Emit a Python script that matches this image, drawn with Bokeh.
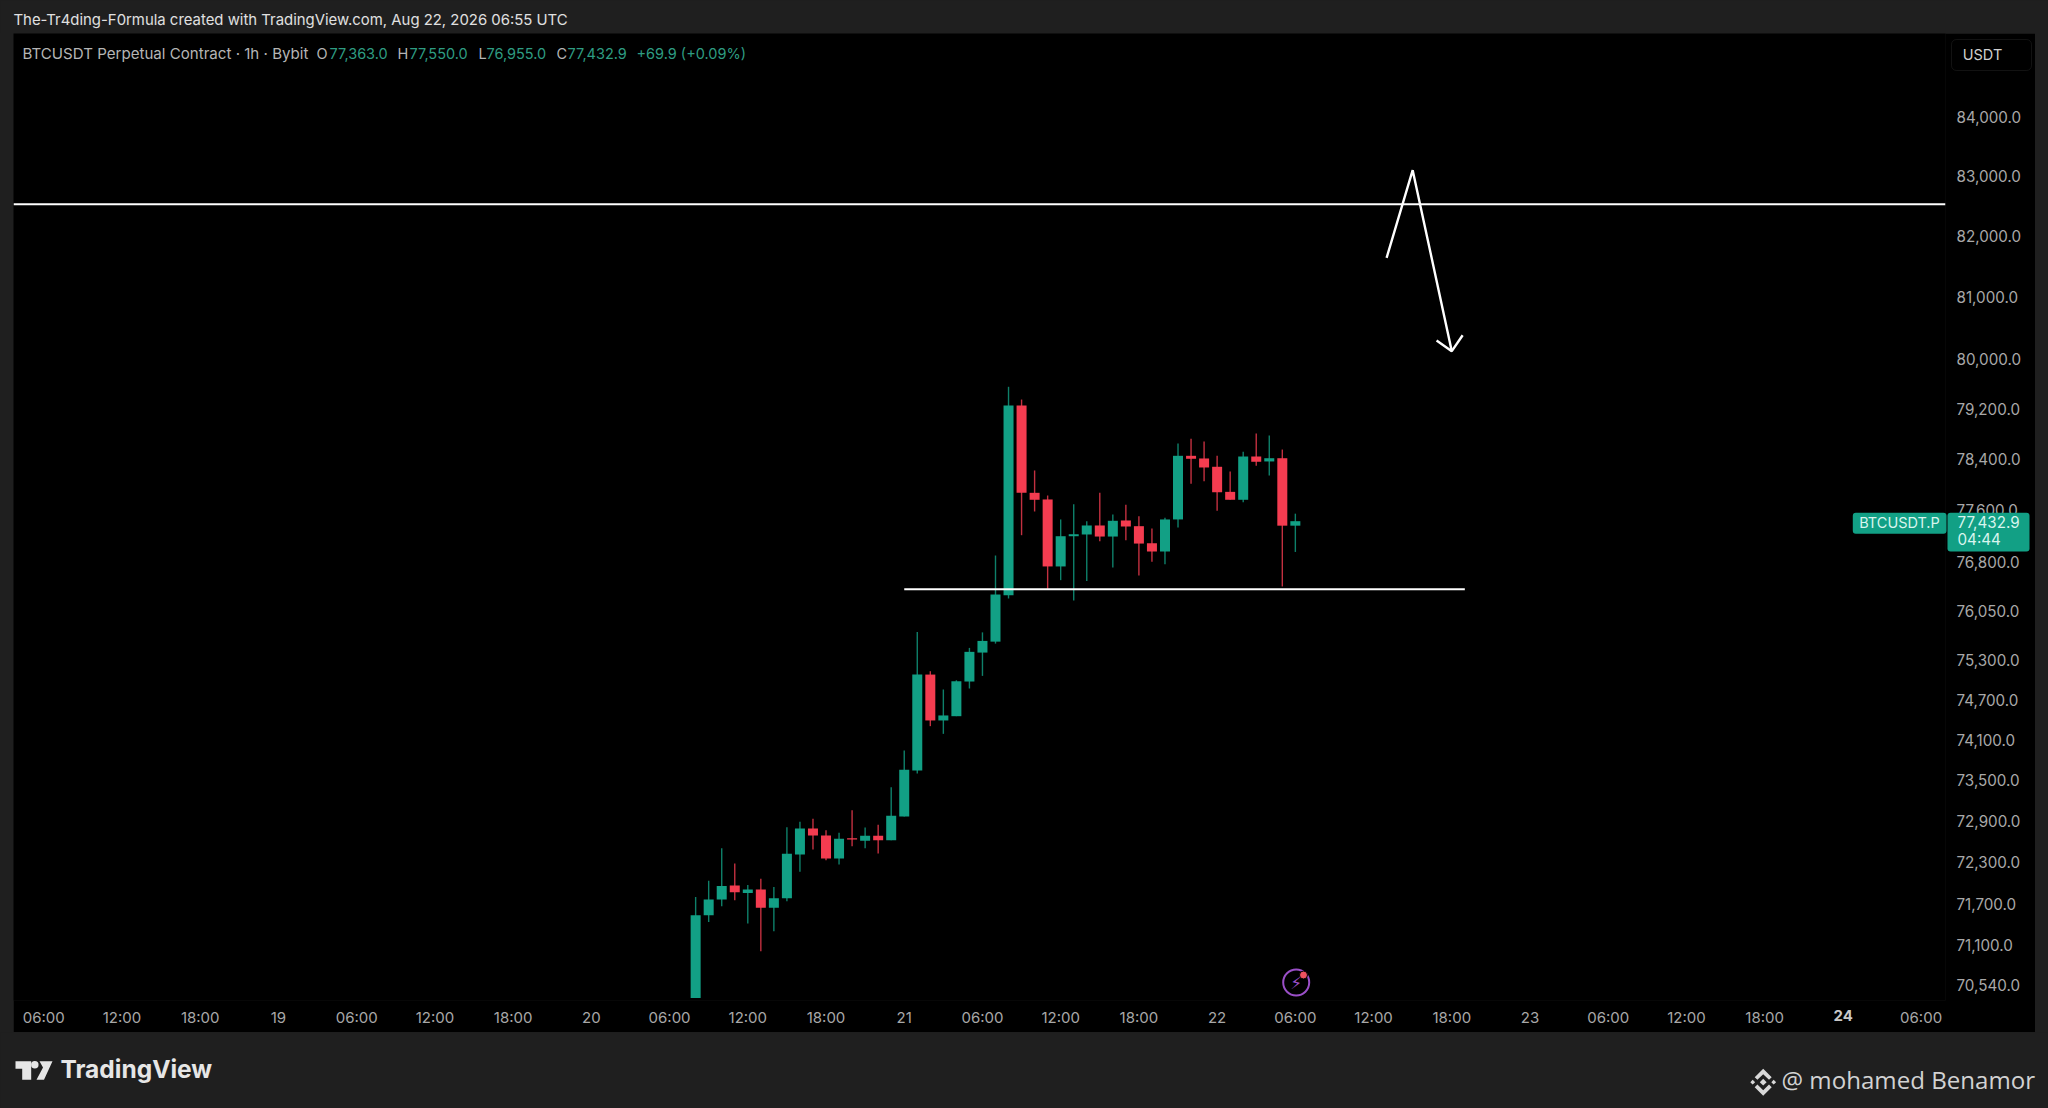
import math
import pandas as pd
from bokeh.core.properties import value
from bokeh.embed import file_html
from bokeh.models import BoxAnnotation, FixedTicker, Label, NumeralTickFormatter, Range1d
from bokeh.plotting import figure
from bokeh.resources import INLINE

# ---------- data ----------
first_candle = "2026-08-20 08:00"
opens = [70351,71532,71758,71959,71854,71902,71638,71776,72410,72790,72688,72352,72649,72611,72684,72620,
         72966,73645,75080,74390,74454,74975,75413,75579,76288,79256,77876,77772,76731,77199,77226,77366,
         77194,77444,77355,77090,76962,77460,78458,78416,78285,77891,77767,78447,78369,78420,77363]
highs = [71796,72031,72502,72280,71969,72058,71940,72809,72888,72932,72766,72728,73058,72805,72845,73398,
         73940,75726,75131,74855,74994,75484,75720,76900,79555,79351,78227,77834,77460,77698,77433,77876,
         77538,77689,77511,77319,77486,78652,78726,78684,78458,78211,78521,78810,78778,78557,77550]
lows = [70351,71436,71661,71748,71412,71015,71301,71733,72159,72483,72328,72265,72531,72502,72425,72620,
        72966,73600,74305,74190,74454,74870,75060,75549,76238,77215,77584,76387,76520,76207,76505,77121,
        76715,77137,76592,76803,76766,77335,78017,78058,77595,77767,77729,78301,78148,76423,76955]
closes = [71532,71758,71955,71863,71902,71638,71776,72420,72790,72688,72352,72640,72630,72684,72620,72976,
          73655,75080,74390,74465,74979,75424,75590,76299,79256,77876,77767,76731,77199,77230,77366,77194,
          77439,77350,77085,76962,77460,78458,78411,78274,77885,77767,78447,78364,78420,77363,77432.9]
price_ticks = [84000,83000,82000,81000,80000,79200,78400,77600,76800,76050,75300,74700,74100,73500,72900,72300,71700,71100,70540]
time_tick_start = "2026-08-18 06:00"
time_tick_labels = ["06:00","12:00","18:00","19","06:00","12:00","18:00","20","06:00","12:00","18:00","21",
                    "06:00","12:00","18:00","22","06:00","12:00","18:00","23","06:00","12:00","18:00","24","06:00"]
resistance_price = 82531
support_price = 76378
support_start, support_end = "2026-08-21 00:00", "2026-08-22 19:00"
path_times = ["2026-08-22 13:00","2026-08-22 15:00","2026-08-22 18:00"]
path_prices = [81646,83098,80127]
head_times = ["2026-08-22 16:50","2026-08-22 18:00","2026-08-22 18:50"]
head_prices = [80300,80127,80384]

TITLE = "The-Tr4ding-F0rmula created with TradingView.com, Aug 22, 2026 06:55 UTC"
SYMBOL = "BTCUSDT Perpetual Contract · 1h · Bybit"

GREEN, RED = "#12a085", "#f43c50"
BG = "#1f1f1f"
FONT = "Inter"

def ms(s):
    return pd.Timestamp(s).value / 1e6

HOUR = 3600000.0
t0 = ms(time_tick_start)
xL, xR = t0 - 2.324 * HOUR, t0 + 145.87 * HOUR
yT, yB = 85415.0, 70315.0

# page pixel -> chart data, for chrome that lives in the chart's own coordinates
def fx(px):
    return xL + (px - 13) / 1932 * (xR - xL)
def fy(py):
    return yT * math.exp((py - 33) / 967 * math.log(yB / yT))

times = [ms(t) for t in pd.date_range(first_candle, periods=len(opens), freq="h")]
colors = [GREEN if c >= o else RED for o, c in zip(opens, closes)]
tops = [max(o, c) for o, c in zip(opens, closes)]
bottoms = [min(o, c) for o, c in zip(opens, closes)]

# ---------- header ----------
head = figure(width=2048, height=33, x_range=Range1d(0, 2048), y_range=Range1d(33, 0),
              x_axis_location=None, y_axis_location=None, toolbar_location=None, output_backend="svg",
              min_border=0, background_fill_color=BG, border_fill_color=BG, outline_line_color=None)
head.grid.visible = False
head.text(x=[13], y=[19], text=[TITLE], text_color="#e0e0e0", text_font=value(FONT),
          text_font_size="14.9px", text_baseline="middle")

# ---------- chart ----------
p = figure(width=2022, height=999, x_range=Range1d(xL, xR), y_range=Range1d(yB, yT), y_axis_type="log",
           y_axis_location="right", toolbar_location=None, output_backend="svg", margin=(0, 0, 0, 13),
           min_border_left=0, min_border_right=90, min_border_top=0, min_border_bottom=32,
           background_fill_color="#000000", border_fill_color="#000000", outline_line_color=None)
p.grid.visible = False

yax = p.yaxis[0]
yax.ticker = FixedTicker(ticks=price_ticks)
yax.formatter = NumeralTickFormatter(format="0,0.0")
yax.axis_line_color = None
yax.major_tick_line_color = None
yax.minor_tick_line_color = None
yax.major_label_standoff = 5
yax.major_label_text_color = "#a8a8a8"
yax.major_label_text_font = FONT
yax.major_label_text_font_size = "15.2px"

tick_pos = [int(t0 + i * 6 * HOUR) for i in range(len(time_tick_labels))]
xax = p.xaxis[0]
xax.ticker = FixedTicker(ticks=tick_pos)
xax.major_label_overrides = {t: ("" if l == "24" else l) for t, l in zip(tick_pos, time_tick_labels)}
xax.axis_line_color = None
xax.major_tick_line_color = None
xax.minor_tick_line_color = None
xax.major_label_standoff = 1
xax.major_label_text_color = "#a8a8a8"
xax.major_label_text_font = FONT
xax.major_label_text_font_size = "15px"

p.segment(x0=times, x1=times, y0=lows, y1=highs, line_color=colors, line_width=1.4, line_alpha=0.8)
p.vbar(x=times, width=0.767 * HOUR, top=tops, bottom=bottoms, fill_color=colors, line_color=colors, line_width=0)

p.line([xL, fx(1945)], [resistance_price] * 2, line_color="#ffffff", line_width=2)
p.line([ms(support_start), ms(support_end)], [support_price] * 2, line_color="#ffffff", line_width=2)
p.line([ms(t) for t in path_times], path_prices, line_color="#ffffff", line_width=2.4)
p.line([ms(t) for t in head_times], head_prices, line_color="#ffffff", line_width=2.4)

def lab(px, py, text, color="#b5b5b5", size="14.5px", align="left", style="normal", font=FONT):
    p.add_layout(Label(x=fx(px), y=fy(py), text=text, text_color=color, text_font=font,
                       text_font_size=size, text_align=align, text_baseline="middle",
                       text_font_style=style, level="guide"))

# legend line
lab(22, 53, SYMBOL, size="15.1px")
VAL = "#2e9c82"
for px, letter, vx, val in [(316, "O", 329, "77,363.0"), (397, "H", 409, "77,550.0"),
                            (478, "L", 486, "76,955.0"), (556, "C", 567, "77,432.9")]:
    lab(px, 53, letter)
    lab(vx, 53, val, VAL)
lab(636, 53, "+69.9 (+0.09%)", VAL)

# alert icon
p.scatter([fx(1295.7)], [fy(982)], marker="circle", size=26, fill_color=None, line_color="#9a4fc7", line_width=2)
p.scatter([fx(1303)], [fy(974.5)], marker="circle", size=8, fill_color="#f0525f", line_color="#000000", line_width=1)
lab(1295.7, 982.5, "⚡", "#9a4fc7", "17px", "center", font="DejaVu Sans")

# ---------- footer ----------
foot = figure(width=2048, height=76, x_range=Range1d(0, 2048), y_range=Range1d(1108, 1032),
              x_axis_location=None, y_axis_location=None, toolbar_location=None, output_backend="svg",
              min_border=0, background_fill_color=BG, border_fill_color=BG, outline_line_color=None)
foot.grid.visible = False
LOGO = "#e6e6e6"
foot.patch([15, 30.7, 30.7, 21.7, 21.7, 15], [1060.7, 1060.7, 1079.3, 1079.3, 1068.3, 1068.3], fill_color=LOGO, line_width=0)
foot.scatter([34.3], [1064.2], marker="circle", size=7.5, fill_color=LOGO, line_width=0)
foot.patch([39, 52, 43.5, 36, 42.5], [1060.7, 1060.7, 1079.3, 1079.3, 1067], fill_color=LOGO, line_width=0)
foot.text(x=[60], y=[1068.5], text=["TradingView"], text_color=LOGO, text_font=value("Inter"),
          text_font_size="24.5px", text_font_style="bold", text_baseline="middle")

# Binance-like mark
cx, cy = 1762.7, 1081.7
def dm(x, y, r):
    foot.patch([x, x + r, x, x - r], [y - r, y, y + r, y], fill_color="#d8d8d8", line_width=0)
dm(cx, cy, 3.4)
dm(cx - 10.5, cy, 2.4)
dm(cx + 10.5, cy, 2.4)
foot.patch([cx, cx + 8.5, cx + 5.8, cx, cx - 5.8, cx - 8.5], [cy - 13.5, cy - 5, cy - 2.4, cy - 8, cy - 2.4, cy - 5], fill_color="#d8d8d8", line_width=0)
foot.patch([cx, cx + 8.5, cx + 5.8, cx, cx - 5.8, cx - 8.5], [cy + 13.5, cy + 5, cy + 2.4, cy + 8, cy + 2.4, cy + 5], fill_color="#d8d8d8", line_width=0)
foot.text(x=[1781], y=[1079], text=["@ mohamed Benamor"], text_color="#d2d2d2", text_font=value("Open Sans"),
          text_font_size="24.1px", text_baseline="middle")

# ---------- overlay: things that sit over the axis panels, in page pixels ----------
top = figure(width=2048, height=1108, x_range=Range1d(0, 2048), y_range=Range1d(1108, 0),
             x_axis_location=None, y_axis_location=None, toolbar_location=None, output_backend="svg",
             min_border=0, background_fill_alpha=0, border_fill_alpha=0, outline_line_color=None,
             styles={"position": "absolute", "left": "0px", "top": "0px"})
top.grid.visible = False

def box(x0, x1, y0, y1, fill, line=None, radius=3):
    top.add_layout(BoxAnnotation(left=x0, right=x1, top=y0, bottom=y1, fill_color=fill, fill_alpha=1,
                                 line_color=line, border_radius=radius, level="underlay"))
def txt(x, y, s, color, size="15.2px", align="left", style="normal"):
    top.text(x=[x], y=[y], text=[s], text_color=color, text_font=value(FONT), text_font_size=size,
             text_align=align, text_baseline="middle", text_font_style=style)

box(1951, 2031, 39, 70, "#000000", "#3a3a3a", 5)
txt(1982, 54, "USDT", "#d0d0d0", size="14.5px", align="center")
box(1852.3, 1946, 512.3, 533.3, "#12a085")
box(1947, 2029, 512.3, 551, "#12a085")
txt(1899, 522, "BTCUSDT.P", "#d8f5ee", size="14.5px", align="center")
txt(1957, 521, "77,432.9", "#d8f5ee")
txt(1957, 538.5, "04:44", "#d8f5ee")
txt(1842.7, 1015, "24", "#c8c8c8", size="15px", align="center", style="bold")

html = file_html((head, p, foot, top), INLINE)
html = html.replace("</head>", "<style>html,body{background:%s;overflow:hidden;}</style></head>" % BG, 1)
open("out.html", "w").write(html)
